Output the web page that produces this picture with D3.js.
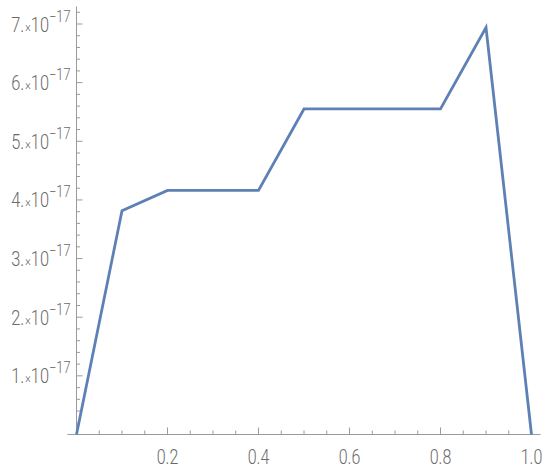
<!DOCTYPE html>
<html>
<head>
<meta charset="utf-8">
<script src="https://cdn.jsdelivr.net/npm/d3@7"></script>
<style>
  body { margin: 0; background: #fff; }
  text { font-family: Roboto, "Liberation Sans", sans-serif; font-weight: 300; fill: #6a6a6a; }
</style>
</head>
<body>
<div id="container"></div>
<script>
// data
const xValues = [0, 0.1, 0.2, 0.3, 0.4, 0.5, 0.6, 0.7, 0.8, 0.9, 1.0]
const yValues = [0, 3.816e-17, 4.163e-17, 4.163e-17, 4.163e-17, 5.551e-17, 5.551e-17, 5.551e-17, 5.551e-17, 6.939e-17, 0]
const xMajorTicks = [0.2, 0.4, 0.6, 0.8, 1.0]
const yMajorTicks = [1, 2, 3, 4, 5, 6, 7] // mantissa of ×10^-17

const width = 550,
  height = 472,
  color = "#5E81B5",
  axisColor = "#9a9a9a",
  squeeze = 0.8 // labels are narrow in the original

const xScale = d3.scaleLinear()
  .domain([0, 1])
  .range([76.5, 531.5])

const yScale = d3.scaleLinear()
  .domain([0, 7e-17])
  .range([434.5, 24])

const svg = d3.select("#container")
  .append("svg")
  .attr("width", width)
  .attr("height", height)

// x axis, minor ticks every 0.05
const xMinor = d3.range(0, 21).map(i => i * 0.05).filter(v => !xMajorTicks.some(m => Math.abs(m - v) < 1e-9))
const gx = svg.append("g").attr("transform", `translate(0,${yScale(0)})`)
gx.append("line")
  .attr("x1", xScale(-0.02)).attr("x2", xScale(1.02))
  .attr("stroke", axisColor)
gx.selectAll(".minor")
  .data(xMinor)
  .join("line")
  .attr("x1", d => xScale(d)).attr("x2", d => xScale(d))
  .attr("y1", 0).attr("y2", -4)
  .attr("stroke", axisColor)
gx.selectAll(".major")
  .data(xMajorTicks)
  .join("line")
  .attr("x1", d => xScale(d)).attr("x2", d => xScale(d))
  .attr("y1", 0).attr("y2", -7)
  .attr("stroke", axisColor)
gx.selectAll("text")
  .data(xMajorTicks)
  .join("text")
  .attr("transform", d => `translate(${xScale(d)},29) scale(${squeeze},1)`)
  .attr("text-anchor", "middle")
  .attr("font-size", 20)
  .text(d => d3.format(".1f")(d))

// y axis, minor ticks every 0.2e-17
const yMinor = d3.range(1, 37).filter(i => i % 5 !== 0).map(i => i * 0.2e-17)
const gy = svg.append("g").attr("transform", `translate(${xScale(0)},0)`)
gy.append("line")
  .attr("y1", yScale(0)).attr("y2", yScale(7.3e-17))
  .attr("stroke", axisColor)
gy.selectAll(".minor")
  .data(yMinor)
  .join("line")
  .attr("y1", d => yScale(d)).attr("y2", d => yScale(d))
  .attr("x1", 0).attr("x2", 3.5)
  .attr("stroke", axisColor)
gy.selectAll(".major")
  .data(yMajorTicks)
  .join("line")
  .attr("y1", d => yScale(d * 1e-17)).attr("y2", d => yScale(d * 1e-17))
  .attr("x1", 0).attr("x2", 6)
  .attr("stroke", axisColor)

const yLabels = gy.selectAll("text")
  .data(yMajorTicks)
  .join("text")
  .attr("transform", d => `translate(-6,${yScale(d * 1e-17) + 7.5}) scale(${squeeze},1)`)
  .attr("text-anchor", "end")
  .attr("font-size", 20.5)
yLabels.append("tspan").text(d => d + ".")
yLabels.append("tspan").attr("font-size", 14).attr("dx", 1).text("×")
yLabels.append("tspan").text("10")
yLabels.append("tspan").attr("font-size", 16).attr("dy", -10).text("−17")

// line
const line = d3.line()
  .x((d, i) => xScale(xValues[i]))
  .y(d => yScale(d))

svg.append("path")
  .datum(yValues)
  .attr("d", line)
  .attr("fill", "none")
  .attr("stroke", color)
  .attr("stroke-width", 2.8)
  .attr("stroke-linejoin", "miter")
</script>
</body>
</html>
